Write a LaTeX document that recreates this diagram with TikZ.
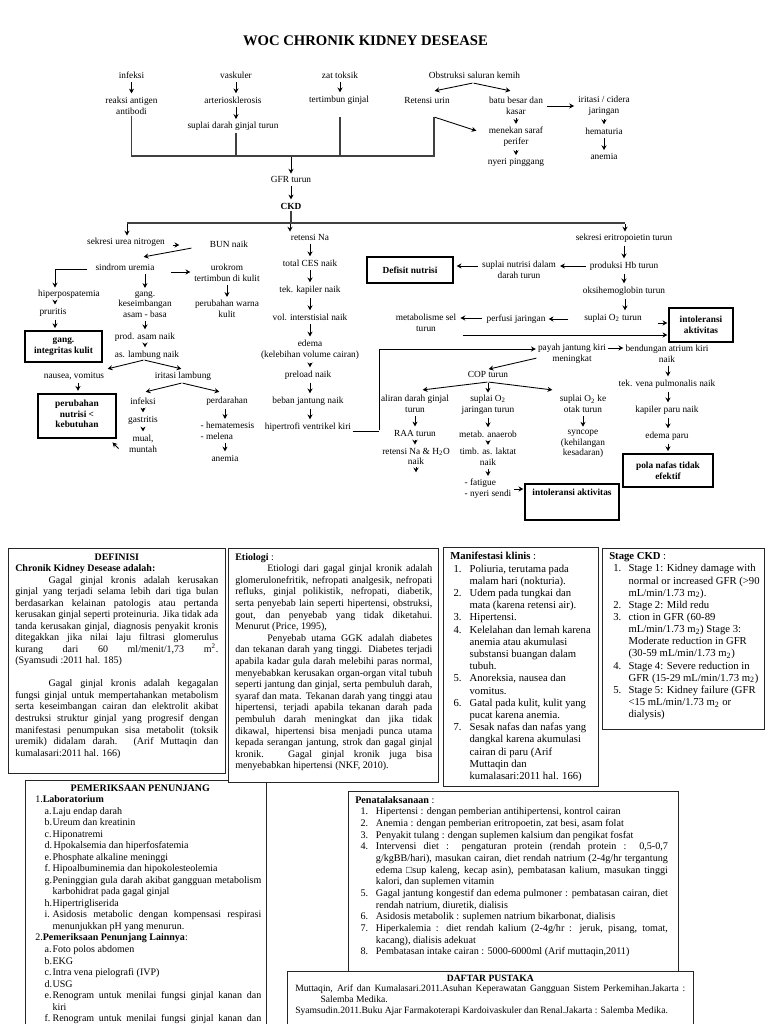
\documentclass[tikz,border=0pt]{standalone}
\usepackage{fontspec}
\setmainfont{Liberation Serif}
\usetikzlibrary{arrows.meta}
\newcommand{\lnj}[1]{\hbox to\hsize{#1}}
\newcommand{\lni}[2]{\hbox to\hsize{\hskip #1 #2}}
\newcommand{\lnn}[1]{\hbox{#1}}
\newcommand{\lnl}[4]{\hbox{\hskip #1\hbox to #2{#3\hfil}#4}}
\newcommand{\lnc}[2]{\hbox{\hskip #1 #2}}
\newcommand{\lnlj}[4]{\hbox to\hsize{\hskip #1\hbox to #2{#3\hfil}#4}}
\newcommand{\lncj}[2]{\hbox to\hsize{\hskip #1 #2}}
\newcommand{\bk}[4]{\vtop{\hsize=#1\fontsize{#2}{#3}\selectfont\lineskiplimit=-9pt\parindent=0pt\relax #4}}
\newcommand{\vv}[3]{\draw[ar, shorten >=1.4pt, shorten <=1.4pt] (#1,0 |- #2.south) -- (#1,0 |- #3.north);}
\newcommand{\hr}[3]{\draw[ar, shorten >=2pt, shorten <=2pt] (#2.east |- 0,#1) -- (#3.west |- 0,#1);}
\newcommand{\hl}[3]{\draw[ar, shorten >=2pt, shorten <=2pt] (#2.west |- 0,#1) -- (#3.east |- 0,#1);}
\tikzset{
  t/.style={font=\fontsize{7}{8}\selectfont, inner sep=1pt, align=center},
  tb/.style={t, font=\fontsize{7}{8}\selectfont\bfseries},
  ar/.style={-{Stealth[length=3.6pt,width=3.8pt]}, line width=.65pt, shorten >=.5pt, shorten <=.5pt},
  bus/.style={line width=.85pt, black!75},
  sz/.style 2 args={minimum width={#1*.75pt}, minimum height={#2*.75pt}},
  bx/.style={draw, line width=1.5pt, inner sep=0pt, align=center, font=\fontsize{7}{8}\selectfont\bfseries},
  pn/.style={draw, line width=1pt, black!85, fill=white, inner sep=0pt, anchor=north west},
  tx/.style={anchor=base west, inner sep=0pt},
}
\begin{document}
\begin{tikzpicture}[x=.75pt,y=-.75pt]
\useasboundingbox (0,0) rectangle (768,1024);
\clip (0,0) rectangle (768,1024);
\fill[white] (0,0) rectangle (768,1024);
\node[inner sep=0pt, font=\fontsize{11}{13}\selectfont\bfseries] (title) at (365.5,41) {WOC CHRONIK KIDNEY DESEASE};
% --- top row
\node[t] (infeksi) at (131.5,75.7) {infeksi};
\node[t] (vaskuler) at (236,75.7) {vaskuler};
\node[t] (zat) at (340,75.7) {zat toksik};
\node[t] (obstruksi) at (474.5,75.7) {Obstruksi saluran kemih};
\node[t] (reaksi) at (131.5,105.5) {reaksi antigen\\antibodi};
\node[t] (arterio) at (233,100) {arteriosklerosis};
\node[t] (suplaid) at (233,126.7) {suplai darah ginjal turun};
\node[t] (tert) at (339,100) {tertimbun ginjal};
\node[t] (retensi) at (427,100) {Retensi urin};
\node[t] (batu) at (516,105.7) {batu besar dan\\kasar};
\node[t] (menekan) at (516,137) {menekan saraf\\perifer};
\node[t] (nyeri) at (516,162.7) {nyeri pinggang};
\node[t] (iritasi) at (604,106) {iritasi / cidera\\jaringan};
\node[t] (hematuria) at (604,131) {hematuria};
\node[t] (anemia1) at (604,156.7) {anemia};
\node[t] (gfr) at (291,179) {GFR turun};
\node[tb] (ckd) at (291,206) {CKD};
\vv{131.5}{infeksi}{reaksi}
\vv{236}{vaskuler}{arterio}
\vv{236}{arterio}{suplaid}
\vv{340}{zat}{tert}
\vv{516}{batu}{menekan}
\vv{516}{menekan}{nyeri}
\vv{604}{iritasi}{hematuria}
\vv{604}{hematuria}{anemia1}
\hr{106}{batu}{iritasi}
\vv{291}{gfr}{ckd}
\coordinate (obs) at (473,83);
\coordinate (obsL) at (434,91);
\coordinate (obsR) at (511,91);
\draw[ar] (obs) -- (obsL);
\draw[ar] (obs) -- (obsR);
\coordinate (ret1) at (434,117);
\coordinate (ret2) at (477,131);
\coordinate (tg1) at (340,117);
\coordinate (busL) at (131.5,156);
\coordinate (busR) at (434,156);
\draw[ar] (ret1) -- (ret2);
\draw[bus] (reaksi.south) -- (reaksi.south |- busL) -- (busR) -- (ret1);
\draw[bus] (236,0 |- suplaid.south) -- (236,0 |- busL);
\draw[bus] (tg1) -- (tg1 |- busL);
\draw[ar] (291,0 |- busL) -- (gfr.north);
% --- distribution
\coordinate (distL) at (127,223);
\coordinate (distR) at (625,223);
\draw[bus] (ckd.south) -- (291,0 |- distL);
\draw[bus] (distL) -- (distR);
% --- left column
\node[t] (sekurea) at (126,242) {sekresi urea nitrogen};
\node[t] (bun) at (229,244) {BUN naik};
\node[t] (sindrom) at (125,267) {sindrom uremia};
\node[t] (urokrom) at (227,272.5) {urokrom\\tertimbun di kulit};
\node[t] (warna) at (227,309) {perubahan warna\\kulit};
\node[t] (hiper) at (69,294) {hiperpospatemia};
\node[t] (pruritis) at (53,312) {pruritis};
\node[bx, sz={77}{31}] (gangik) at (63.5,346.5) {\fontsize{7}{7.6}\selectfont gang.\\integritas kulit};
\node[t] (gangk) at (145,304.5) {gang.\\keseimbangan\\asam - basa};
\node[t] (prod) at (145,337) {prod. asam naik};
\node[t] (aslam) at (147,355) {as. lambung naik};
\node[t] (nausea) at (74,376) {nausea, vomitus};
\node[t] (irlam) at (183,376) {iritasi lambung};
\node[bx, line width=2pt, sz={78}{44}] (pnb) at (77,416) {};
\node[tb] (pnt) at (77,414) {perubahan\\nutrisi <\\kebutuhan};
\node[t] (infek2) at (143,401) {infeksi};
\node[t] (gastr) at (143,420) {gastritis};
\node[t] (mual) at (143,443.5) {mual,\\muntah};
\node[t] (perd) at (227,401) {perdarahan};
\node[t, anchor=west, align=left] (hema) at (199,431) {- hematemesis\\- melena};
\node[t] (anemia2) at (225,458) {anemia};
\draw[ar] (127,0 |- distL) -- (127,0 |- sekurea.north);
\coordinate (sb1) at (172,245);
\coordinate (sb2) at (180,245);
\draw[ar] (sb1) -- (sb2);
\coordinate (bunS) at (192,248);
\coordinate (sinE) at (143,257);
\draw[ar] (bunS) -- (sinE);
\coordinate (sinL) at (55,269);
\coordinate (sin0) at (88,269);
\draw[ar] (sin0) -- (sinL) -- (sinL |- hiper.north);
\coordinate (su1) at (170,272);
\coordinate (su2) at (191,272);
\draw[ar] (su1) -- (su2);
\vv{227}{urokrom}{warna}
\vv{55}{hiper}{pruritis}
\vv{55}{pruritis}{gangik}
\vv{145}{sindrom}{gangk}
\vv{145}{gangk}{prod}
\vv{145}{prod}{aslam}
\coordinate (asl0) at (144,360);
\coordinate (aslL) at (107,369);
\coordinate (aslR) at (182,369);
\draw[ar] (asl0) -- (aslL);
\draw[ar] (asl0) -- (aslR);
\vv{78}{nausea}{pnb}
\coordinate (irl0) at (182,383);
\coordinate (irlL) at (145,392);
\coordinate (irlR) at (220,392);
\draw[ar] (irl0) -- (irlL);
\draw[ar] (irl0) -- (irlR);
\vv{143}{infek2}{gastr}
\vv{143}{gastr}{mual}
\vv{225}{perd}{hema}
\vv{225}{hema}{anemia2}
\coordinate (mu1) at (119,449);
\coordinate (mu2) at (112,442);
\draw[ar] (mu1) -- (mu2);
% --- centre column
\node[t] (retna) at (310,237) {retensi Na};
\node[t] (ces) at (310,263) {total CES naik};
\node[t] (kap) at (310,290) {tek. kapiler naik};
\node[t] (vol) at (310,317) {vol. interstisial naik};
\node[t] (edema) at (310,349.5) {edema\\(kelebihan volume cairan)};
\node[t] (preload) at (308,375) {preload naik};
\node[t] (beban) at (308,401) {beban jantung naik};
\node[t] (hipt) at (308,427) {hipertrofi ventrikel kiri};
\draw[ar] (290,0 |- distL) -- (290,0 |- retna.north);
\vv{310}{retna}{ces}
\vv{310}{ces}{kap}
\vv{310}{kap}{vol}
\vv{310}{vol}{edema}
\vv{310}{edema}{preload}
\vv{310}{preload}{beban}
\vv{310}{beban}{hipt}
% --- right part
\node[t] (eritro) at (624,238) {sekresi eritropoietin turun};
\node[t] (prodhb) at (624,266) {produksi Hb turun};
\node[t] (suplnut) at (519,270) {suplai nutrisi dalam\\darah turun};
\node[bx, sz={86}{26}] (defisit) at (410,270) {Defisit nutrisi};
\node[t] (oksi) at (624,291) {oksihemoglobin turun};
\node[t] (suplo) at (613,318) {suplai O\textsubscript{2} turun};
\node[t] (perfusi) at (516,319) {perfusi jaringan};
\node[t] (metsel) at (426,323) {metabolisme sel\\turun};
\node[bx, sz={64}{34}] (ia1) at (701,325) {intoleransi\\aktivitas};
\node[t] (payah) at (572,354) {payah jantung kiri\\meningkat};
\node[t] (bend) at (667,353.5) {bendungan atrium kiri\\naik};
\node[t] (vena) at (667,384) {tek. vena pulmonalis naik};
\node[t] (kaparu) at (667,410) {kapiler paru naik};
\node[t] (edparu) at (667,436) {edema paru};
\node[bx, sz={90}{33}] (pola) at (668,470.5) {pola nafas tidak\\efektif};
\node[t] (cop) at (488,374) {COP turun};
\node[t] (aliran) at (415,404) {aliran darah ginjal\\turun};
\node[t] (raa) at (415,433) {RAA turun};
\node[t] (retna2) at (416,456.5) {retensi Na \& H\textsubscript{2}O\\naik};
\node[t] (suplj) at (488,404.5) {suplai O\textsubscript{2}\\jaringan turun};
\node[t] (metab) at (488,434) {metab. anaerob};
\node[t] (timb) at (488,457) {timb. as. laktat\\naik};
\node[t, anchor=west, align=left] (fatigue) at (463,489) {- fatigue\\- nyeri sendi};
\node[bx, line width=1.5pt, sz={94}{36}] (ia2) at (572,502) {};
\node[tb] (ia2t) at (572,492) {intoleransi aktivitas};
\node[t] (suplot) at (583,404) {suplai O\textsubscript{2} ke\\otak turun};
\node[t] (sync) at (583,444) {syncope\\(kehilangan\\kesadaran)};
\draw[ar] (625,0 |- distR) -- (625,0 |- eritro.north);
\vv{624}{eritro}{prodhb}
\vv{624}{prodhb}{oksi}
\vv{625}{oksi}{suplo}
\hl{266}{prodhb}{suplnut}
\hl{266}{suplnut}{defisit}
\coordinate (so1) at (569,319);
\coordinate (so2) at (548,319);
\draw[ar] (so1) -- (so2);
\hl{318}{perfusi}{metsel}
\coordinate (si1) at (657,323);
\draw[ar] (si1) -- (si1 -| ia1.west);
\coordinate (ms1) at (462,335);
\draw[ar] (ms1) -- (ms1 -| ia1.west);
\coordinate (hp1) at (379,431);
\draw[line width=.7pt] (hipt.east |- hp1) -- (hp1);
\draw[ar] (hp1) -- (hp1 |- 0,349) -- (payah.west |- 0,349);
\coordinate (pb1) at (607,348);
\draw[ar] (pb1) -- (pb1 -| bend.west);
\vv{668}{bend}{vena}
\vv{668}{vena}{kaparu}
\vv{668}{kaparu}{edparu}
\vv{668}{edparu}{pola}
\coordinate (pj1) at (537,358);
\draw[ar] (pj1) -- (cop.north);
\coordinate (cp0) at (488,382);
\coordinate (cpL) at (422,390);
\coordinate (cpR) at (553,390);
\draw[ar] (cp0) -- (cpL);
\draw[ar] (cp0) -- (cp0 |- suplj.north);
\draw[ar] (cp0) -- (cpR);
\vv{415}{aliran}{raa}
\vv{415}{raa}{retna2}
\coordinate (rn1) at (416,473);
\draw[ar] (retna2.south) -- (rn1);
\vv{488}{suplj}{metab}
\vv{488}{metab}{timb}
\vv{488}{timb}{fatigue}
\draw[ar] (fatigue.east |- 0,489) -- (ia2.west |- 0,489);
\vv{583}{suplot}{sync}
% --- panels: pemeriksaan first (lies below etiologi)
\node[pn, sz={241}{260}] (ppem) at (25,780) {};
\node[pn, sz={217}{225}] (pdef) at (8,548) {};
\node[pn, sz={210}{234}] (petio) at (228,548) {};
\node[pn, sz={155}{239}] (pman) at (443,547) {};
\node[pn, sz={162}{181}] (pstg) at (602,548) {};
\node[pn, sz={330}{190}] (ppen) at (348,791) {};
\node[pn, sz={406}{70}] (pdaf) at (287,971) {};
\node[tx] (tdef) at (15,560) {\bk{152.25pt}{7.5}{8.65}{%
\hbox to\hsize{\hfil\bfseries DEFINISI\hfil}
\lnn{\bfseries Chronik Kidney Desease adalah:}
\lni{25pt}{Gagal ginjal kronis adalah kerusakan}
\lnj{ginjal yang terjadi selama lebih dari tiga bulan}
\lnj{berdasarkan kelainan patologis atau pertanda}
\lnj{kerusakan ginjal seperti proteinuria. Jika tidak ada}
\lnj{tanda kerusakan ginjal, diagnosis penyakit kronis}
\lnj{ditegakkan jika nilai laju filtrasi glomerulus}
\lnj{kurang dari 60 ml/menit/1,73 m\textsuperscript{2}.}
\lnn{(Syamsudi :2011 hal. 185)}
\vskip 8.65pt
\lni{25pt}{Gagal ginjal kronis adalah kegagalan}
\lnj{fungsi ginjal untuk mempertahankan metabolism}
\lnj{serta keseimbangan cairan dan elektrolit akibat}
\lnj{destruksi struktur ginjal yang progresif dengan}
\lnj{manifestasi penumpukan sisa metabolit (toksik}
\lnj{uremik) didalam darah. (Arif Muttaqin dan}
\lnn{kumalasari:2011 hal. 166)}}};
\node[tx] (tetio) at (235,560) {\bk{147.75pt}{7.5}{8.7}{%
\lnn{\textbf{Etiologi} :}
\lni{24pt}{Etiologi dari gagal ginjal kronik adalah}
\lnj{glomerulonefritik, nefropati analgesik, nefropati}
\lnj{refluks, ginjal polikistik, nefropati, diabetik,}
\lnj{serta penyebab lain seperti hipertensi, obstruksi,}
\lnj{gout, dan penyebab yang tidak diketahui.}
\lnn{Menurut (Price, 1995),}
\lni{24pt}{Penyebab utama GGK adalah diabetes}
\lnj{dan tekanan darah yang tinggi. Diabetes terjadi}
\lnj{apabila kadar gula darah melebihi paras normal,}
\lnj{menyebabkan kerusakan organ-organ vital tubuh}
\lnj{seperti jantung dan ginjal, serta pembuluh darah,}
\lnj{syaraf dan mata. Tekanan darah yang tinggi atau}
\lnj{hipertensi, terjadi apabila tekanan darah pada}
\lnj{pembuluh darah meningkat dan jika tidak}
\lnj{dikawal, hipertensi bisa menjadi punca utama}
\lnj{kepada serangan jantung, strok dan gagal ginjal}
\lnj{kronik. Gagal ginjal kronik juga bisa}
\lnn{menyebabkan hipertensi (NKF, 2010).}}};
\node[tx] (tman) at (450,559) {\bk{110pt}{8}{9.15}{%
\lnn{\textbf{Manifestasi klinis} :}
\vskip .6pt
\lnl{2.5pt}{12pt}{1.}{Poliuria, terutama pada}
\lnc{14.5pt}{malam hari (nokturia).}
\lnl{2.5pt}{12pt}{2.}{Udem pada tungkai dan}
\lnc{14.5pt}{mata (karena retensi air).}
\lnl{2.5pt}{12pt}{3.}{Hipertensi.}
\lnl{2.5pt}{12pt}{4.}{Kelelahan dan lemah karena}
\lnc{14.5pt}{anemia atau akumulasi}
\lnc{14.5pt}{substansi buangan dalam}
\lnc{14.5pt}{tubuh.}
\lnl{2.5pt}{12pt}{5.}{Anoreksia, nausea dan}
\lnc{14.5pt}{vomitus.}
\lnl{2.5pt}{12pt}{6.}{Gatal pada kulit, kulit yang}
\lnc{14.5pt}{pucat karena anemia.}
\lnl{2.5pt}{12pt}{7.}{Sesak nafas dan nafas yang}
\lnc{14.5pt}{dangkal karena akumulasi}
\lnc{14.5pt}{cairan di paru (Arif}
\lnc{14.5pt}{Muttaqin dan}
\lnc{14.5pt}{kumalasari:2011 hal. 166)}}};
\node[tx] (tstg) at (609,559) {\bk{115pt}{8}{9.1}{%
\lnn{\textbf{Stage CKD} :}
\vskip .6pt
\lnl{3pt}{11.5pt}{1.}{Stage 1: Kidney damage with}
\lnc{14.5pt}{normal or increased GFR (>90}
\lnc{14.5pt}{mL/min/1.73 m\textsubscript{2}).}
\lnl{3pt}{11.5pt}{2.}{Stage 2: Mild redu}
\lnl{3pt}{11.5pt}{3.}{ction in GFR (60-89}
\lnc{14.5pt}{mL/min/1.73 m\textsubscript{2}) Stage 3:}
\lnc{14.5pt}{Moderate reduction in GFR}
\lnc{14.5pt}{(30-59 mL/min/1.73 m\textsubscript{2})}
\lnl{3pt}{11.5pt}{4.}{Stage 4: Severe reduction in}
\lnc{14.5pt}{GFR (15-29 mL/min/1.73 m\textsubscript{2})}
\lnl{3pt}{11.5pt}{5.}{Stage 5: Kidney failure (GFR}
\lnc{14.5pt}{<15 mL/min/1.73 m\textsubscript{2} or}
\lnc{14.5pt}{dialysis)}}};
\node[tx] (tpem) at (35,791) {\bk{169.5pt}{7.5}{8.65}{%
\hbox to\hsize{\hfil\bfseries PEMERIKSAAN PENUNJANG\hfil\hskip 12pt}
\lnn{1.\textbf{Laboratorium}}
\lnl{7pt}{6pt}{a.}{Laju endap darah}
\lnl{7pt}{6pt}{b.}{Ureum dan kreatinin}
\lnl{7pt}{6pt}{c.}{Hiponatremi}
\lnl{7pt}{6.8pt}{d.}{Hpokalsemia dan hiperfosfatemia}
\lnl{7pt}{6pt}{e.}{Phosphate alkaline meninggi}
\lnl{7pt}{6pt}{f.}{Hipoalbuminemia dan hipokolesteolemia}
\lnlj{7pt}{6pt}{g.}{Peninggian gula darah akibat gangguan metabolism}
\lnc{13pt}{karbohidrat pada gagal ginjal}
\lnl{7pt}{6pt}{h.}{Hipertrigliserida}
\lnlj{7pt}{6pt}{i.}{Asidosis metabolic dengan kompensasi respirasi}
\lnc{13pt}{menunjukkan pH yang menurun.}
\lnn{2.\textbf{Pemeriksaan Penunjang Lainnya}:}
\lnl{7pt}{6pt}{a.}{Foto polos abdomen}
\lnl{7pt}{6pt}{b.}{EKG}
\lnl{7pt}{6pt}{c.}{Intra vena pielografi (IVP)}
\lnl{7pt}{6pt}{d.}{USG}
\lnlj{7pt}{6pt}{e.}{Renogram untuk menilai fungsi ginjal kanan dan}
\lnc{13pt}{kiri}
\lnlj{7pt}{6pt}{f.}{Renogram untuk menilai fungsi ginjal kanan dan}}};
\node[tx] (tpen) at (355,803) {\bk{234.5pt}{7.6}{8.75}{%
\lnn{\textbf{Penatalaksanaan} :}
\lnl{4pt}{11.5pt}{1.}{Hipertensi : dengan pemberian antihipertensi, kontrol cairan}
\lnl{4pt}{11.5pt}{2.}{Anemia : dengan pemberian eritropoetin, zat besi, asam folat}
\lnl{4pt}{11.5pt}{3.}{Penyakit tulang : dengan suplemen kalsium dan pengikat fosfat}
\lnlj{4pt}{11.5pt}{4.}{Intervensi diet : pengaturan protein (rendah protein : 0,5-0,7}
\lncj{15.5pt}{g/kgBB/hari), masukan cairan, diet rendah natrium (2-4g/hr tergantung}
\lncj{15.5pt}{edema □sup kaleng, kecap asin), pembatasan kalium, masukan tinggi}
\lnc{15.5pt}{kalori, dan suplemen vitamin}
\lnlj{4pt}{11.5pt}{5.}{Gagal jantung kongestif dan edema pulmoner : pembatasan cairan, diet}
\lnc{15.5pt}{rendah natrium, diuretik, dialisis}
\lnl{4pt}{11.5pt}{6.}{Asidosis metabolik : suplemen natrium bikarbonat, dialisis}
\lnlj{4pt}{11.5pt}{7.}{Hiperkalemia : diet rendah kalium (2-4g/hr : jeruk, pisang, tomat,}
\lnc{15.5pt}{kacang), dialisis adekuat}
\lnl{4pt}{11.5pt}{8.}{Pembatasan intake cairan : 5000-6000ml (Arif muttaqin,2011)}}};
\node[tx] (tdaf) at (295,981) {\bk{292.5pt}{7.2}{8}{%
\hbox to\hsize{\hfil\bfseries DAFTAR PUSTAKA\hfil}
\lnj{Muttaqin, Arif dan Kumalasari.2011.Asuhan Keperawatan Gangguan Sistem Perkemihan.Jakarta :}
\lnc{19pt}{Salemba Medika.}
\lnn{Syamsudin.2011.Buku Ajar Farmakoterapi Kardoivaskuler dan Renal.Jakarta : Salemba Medika.}}};
\end{tikzpicture}
\end{document}
